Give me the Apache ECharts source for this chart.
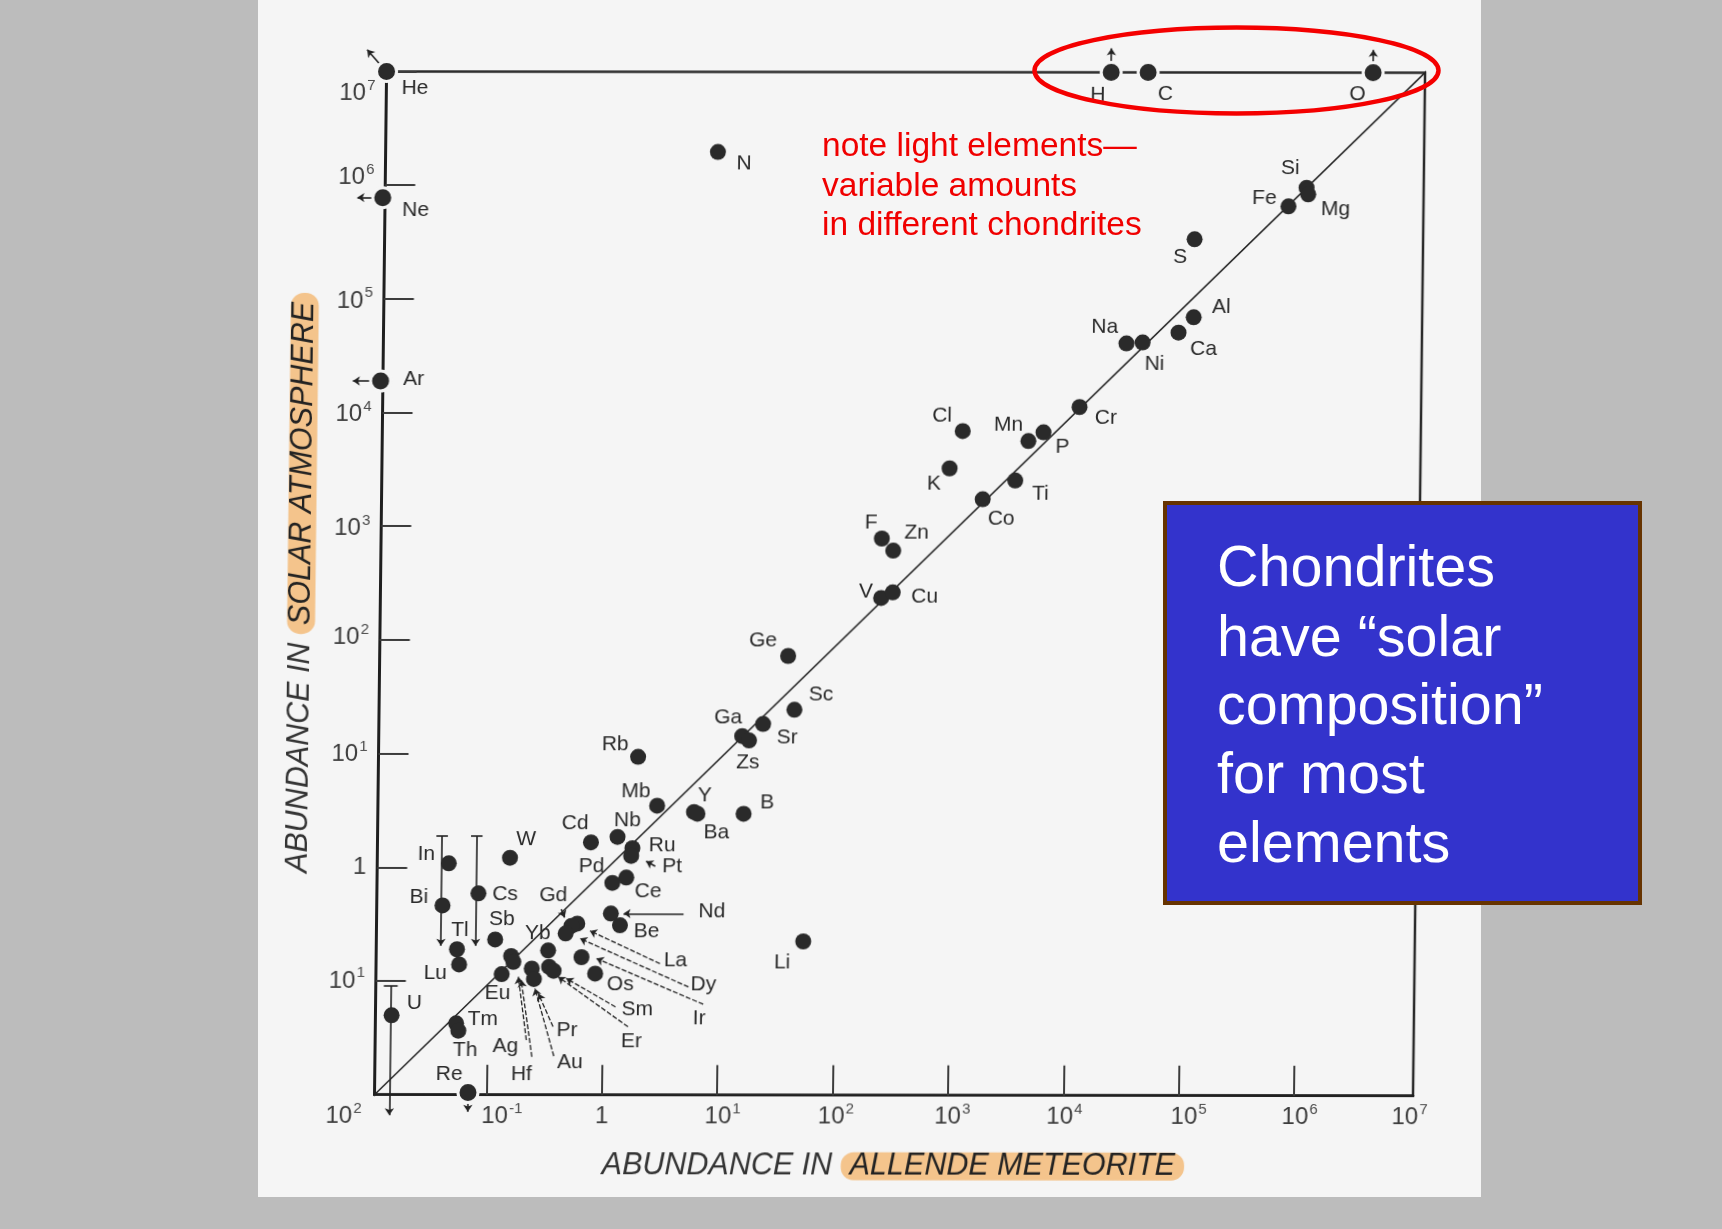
<!DOCTYPE html>
<html><head><meta charset="utf-8">
<script src="https://cdn.jsdelivr.net/npm/echarts@6/dist/echarts.min.js"></script>
<style>
html,body{margin:0;padding:0;background:#bcbcbc;width:1722px;height:1229px;overflow:hidden}
#panel{position:absolute;left:258px;top:0;width:1223px;height:1197px;background:#f5f5f5}
#plot,#overlay{position:absolute;left:0;top:0;width:1722px;height:1229px}
#plot{transform-origin:374.5px 1094.7px;transform:matrix(1,0.0012,-0.0118,1,0,0);filter:blur(0.5px)}
</style></head><body>
<div id="panel"></div><div id="plot"></div><div id="overlay"></div>
<script>
// Values are log10 of abundance (Si = 10^6).
const elements = ['He','N','H','C','O','Ne','Ar','Si','Mg','Fe','S','Al','Ca','Na','Ni','Cr','Cl','Mn','P','K','Ti','Co','F','Zn','V','Cu','Ge','Sc','Sr','Ga','Zs','Rb','Mb','Y','Ba','B','Cd','Nb','Ru','Pt','W','In','Pd','Ce','Cs','Bi','Nd','Be','Sb','Gd','La','Dy','Yb','Tl','Lu','Ir','Os','Sm','Er','Pr','Au','Ag','Hf','Eu','U','Tm','Th','Re','Li'];
const logAllende = [-2.0,0.88,4.28,4.60,6.55,-2.02,-2.02,5.985,6.0,5.83,5.02,5.02,4.89,4.44,4.58,4.04,3.03,3.73,3.60,2.92,3.49,3.21,2.34,2.44,2.34,2.44,1.54,1.60,1.33,1.15,1.21,0.25,0.42,0.74,0.77,1.17,-0.15,0.08,0.21,0.20,-0.85,-1.38,0.04,0.16,-1.12,-1.43,0.03,0.11,-0.97,-0.26,-0.31,-0.36,-0.51,-1.30,-1.28,-0.22,-0.10,-0.50,-0.46,-0.65,-0.63,-0.83,-0.81,-0.91,-1.86,-1.30,-1.28,-1.19,1.70];
const logSolar = [7.0,6.295,7.0,7.0,7.0,5.889,4.277,5.986,5.928,5.822,5.532,4.846,4.711,4.615,4.624,4.055,3.842,3.832,3.755,3.514,3.408,3.243,2.896,2.79,2.374,2.423,1.863,1.389,1.264,1.158,1.119,0.974,0.544,0.489,0.474,0.474,0.221,0.269,0.170,0.102,0.085,0.035,-0.135,-0.088,-0.229,-0.335,-0.405,-0.508,-0.634,-0.494,-0.513,-0.581,-0.730,-0.721,-0.854,-0.789,-0.933,-0.874,-0.909,-0.890,-0.982,-0.78,-0.831,-0.939,-1.302,-1.372,-1.437,-1.98,-0.648];
const onAxisElements = ['He','H','C','O','Ne','Ar','Re'];
const tickExponents = [-2,-1,0,1,2,3,4,5,6,7];
const xTickText = ['2','-1','','1','2','3','4','5','6','7'];
const yTickText = ['2','1','','1','2','3','4','5','6','7'];
// tick marks as printed in the scan, which sit slightly off the frame's even spacing
const xTickMarks = [-1.03,-0.03,0.97,1.97,2.97,3.97,4.97,5.97];
const xAxisWords = ['ABUNDANCE IN','ALLENDE METEORITE'];
const yAxisWords = ['ABUNDANCE IN','SOLAR ATMOSPHERE'];
const diagonal = [[-2,-2],[7.1,7.1]];
// leaders and limits: [x1,y1,x2,y2] in log10 units, second end carries the arrow
const dashedLeaders = [[0.46,-0.845,-0.15,-0.557],[0.71,-1.05,-0.235,-0.625],[0.84,-1.202,-0.09,-0.801],[0.08,-1.226,-0.35,-0.976],[0.19,-1.401,-0.42,-0.962],[-0.46,-1.401,-0.59,-1.109],[-0.45,-1.66,-0.62,-1.065],[-0.69,-1.519,-0.765,-0.962],[-0.64,-1.666,-0.74,-0.992]];
const solidArrows = [[0.66,-0.405,0.14,-0.405],[0.41,0.011,0.33,0.055],[-0.40,-0.368,-0.37,-0.44],[-1.44,0.275,-1.44,-0.69],[-1.14,0.275,-1.14,-0.69],[-1.87,-1.044,-1.87,-2.18],[-1.19,-1.98,-1.19,-2.15],[-2.03,7.03,-2.17,7.19],[-2.06,5.89,-2.24,5.89],[-2.06,4.277,-2.26,4.277],[4.28,7.04,4.28,7.21],[6.55,7.04,6.55,7.2]];
const limitCaps = [[-1.49,0.275,-1.39,0.275],[-1.19,0.275,-1.09,0.275],[-1.93,-1.044,-1.81,-1.044]];
const noteLines = ['note light elements—','variable amounts','in different chondrites'];
const boxLines = ['Chondrites','have “solar','composition”','for most','elements'];

// Label offsets from each dot, layout only (in units of the shown scale)
const S = 1.098;
const labelOffsets = {He:[26,15],N:[24,11],H:[-12,21],C:[16,20],O:[-14,20],Ne:[30,11],Ar:[30,-2],Si:[-15,-18],Mg:[25,14],Fe:[-22,-7],S:[-13,16],Al:[25,-9],Ca:[23,15],Na:[-20,-15],Ni:[11,20],Cr:[24,10],Cl:[-19,-14],Mn:[-32,-7],P:[31,5],K:[-14,14],Ti:[23,12],Co:[17,18],F:[-10,-14],Zn:[21,-16],V:[-14,-6],Cu:[29,4],Ge:[-23,-14],Sc:[24,-14],Sr:[22,12],Ga:[-13,-17],Zs:[-1,20],Rb:[-21,-11],Mb:[-19.4,-13.4],Y:[9.7,-15.2],Ba:[17.6,16.7],B:[21.3,-10.6],Cd:[-14.6,-17.6],Nb:[8.8,-14.6],Ru:[27,-2.7],Pt:[37.3,10],W:[14.6,-16.7],In:[-20.6,-8.5],Pd:[-19.1,-15.2],Ce:[20,13],Cs:[24.3,0.6],Bi:[-21.6,-7.9],Nd:[92,-1.5],Be:[24.3,6],Sb:[6,-18.2],Gd:[-22.2,-25.8],La:[95,31.3],Dy:[126,46.1],Yb:[-9.7,-15.5],Tl:[2.4,-17.6],Lu:[-21.6,8.2],Ir:[107.8,55.9],Os:[23,9.7],Sm:[80.8,38.9],Er:[71.6,64.7],Pr:[32.8,56.2],Au:[33.7,76.2],Ag:[-4.3,82.6],Hf:[8.5,102.3],Eu:[-3.6,17.6],U:[20.6,-11.5],Tm:[24.3,-3.6],Th:[6.4,17.6],Re:[-17.3,-17],Li:[-19,19]};
const xLabelShift = {'-2':-28,'-1':11,'0':-3,'1':2,'2':0,'3':1,'4':-2,'5':6,'6':2,'7':-3};
const yLabelShift = {'-2':0,'-1':0,'0':0,'1':1,'2':-2,'3':2,'4':2,'5':2,'6':-7,'7':20};

const DOT='#2a2a2a', INK='#2a2a2a', TICK='#3c3c3c', BG='#f5f5f5';
function labelStyle(e){
  const o=labelOffsets[e]||[0,0];
  return {show:true,position:'inside',formatter:'{b}',offset:[o[0]*S,o[1]*S],color:INK,fontFamily:'Liberation Sans',fontSize:21};
}
function dots(list,extra){
  const d=[];
  elements.forEach((e,i)=>{ if(list(e)) d.push({name:e,value:[logAllende[i],logSolar[i]],label:labelStyle(e)}); });
  return Object.assign({type:'scatter',clip:false,symbol:'circle',data:d,z:5,emphasis:{disabled:true}},extra);
}
function segs(a){return a.map(s=>({coords:[[s[0],s[1]],[s[2],s[3]]]}));}
function lineSeries(a,sym,dash,w,size){
  return {type:'lines',coordinateSystem:'cartesian2d',clip:false,silent:true,polyline:false,z:4,
    symbol:sym,symbolSize:size,data:segs(a),lineStyle:{color:'#222',width:w,type:dash,opacity:1,curveness:0},effect:{show:false}};
}
// Tick labels: rich text with a raised exponent; per-tick nudge as in the scan
function tickLabel(text,i,axis){
  if(text==='') return '{p'+axis+i+'|1}';
  return '{p'+axis+i+'|10}{s'+axis+i+'|'+text+'}';
}
function tickRich(axis,shift){
  const r={};
  tickExponents.forEach((t,i)=>{
    const dy=axis==='y'?shift[t]*S:0, dx=axis==='x'?shift[t]*S:0;
    const top=Math.max(0,2*dy), bot=Math.max(0,-2*dy);
    const hasSup=(axis==='x'?xTickText:yTickText)[i]!=='';
    r['p'+axis+i]={fontFamily:'Liberation Sans',fontSize:24,color:'#3c3c3c',lineHeight:26,
      padding:[top,hasSup?0:Math.max(0,-2*dx),bot,Math.max(0,2*dx)]};
    r['s'+axis+i]={fontFamily:'Liberation Sans',fontSize:15,color:'#4a4a4a',lineHeight:16,
      padding:[top,Math.max(0,-2*dx),bot+16,1]};
  });
  return r;
}
function axisBase(kind,labels,shift,width,marks){
  const tick={show:true,inside:true,length:30,lineStyle:{color:TICK,width:2}};
  if(marks) tick.customValues=marks;
  return {type:'value',min:-2,max:7,interval:1,splitLine:{show:false},minorTick:{show:false},
    axisLine:{show:true,onZero:false,lineStyle:{color:'#1f1f1f',width:width}},
    axisTick:tick,
    axisLabel:{show:true,margin:kind==='y'?11:9,showMinLabel:kind==='x',showMaxLabel:true,hideOverlap:false,
      formatter:(v)=>{const i=tickExponents.indexOf(Math.round(v));return tickLabel(labels[i],i,kind);},
      rich:tickRich(kind,shift)}};
}
const nameRich={
  a:{fontFamily:'Liberation Sans',fontStyle:'italic',fontSize:30.5,color:'#333'},
  b:{fontFamily:'Liberation Sans',fontStyle:'italic',fontSize:30.5,color:'#222',backgroundColor:'#f4c48c',borderRadius:13,padding:[-1,9,-1,9]}
};
const plot=echarts.init(document.getElementById('plot'),null,{renderer:'canvas'});
plot.setOption({
  animation:false,backgroundColor:'transparent',
  grid:{left:374.5,top:71.4,width:1038.5,height:1023.3,show:true,borderColor:'#2a2a2a',borderWidth:2.5,backgroundColor:'transparent',containLabel:false},
  xAxis:Object.assign(axisBase('x',xTickText,xLabelShift,2.5,xTickMarks),{name:'{a|'+xAxisWords[0]+' }{b|'+xAxisWords[1]+'}',nameLocation:'middle',nameGap:56,nameTextStyle:{rich:nameRich}}),
  yAxis:Object.assign(axisBase('y',yTickText,yLabelShift,3),{name:'{a|'+yAxisWords[0]+' }{b|'+yAxisWords[1]+'}',nameLocation:'middle',nameGap:64,nameRotate:90,nameTextStyle:{rich:nameRich}}),
  tooltip:{show:false},
  series:[
    {type:'line',clip:false,silent:true,symbol:'none',data:diagonal,lineStyle:{color:'#222',width:1.5,opacity:1},z:3},
    lineSeries(dashedLeaders,['none','arrow'],[5,2],1.3,7),
    lineSeries(solidArrows,['none','arrow'],'solid',1.6,7),
    lineSeries(limitCaps,['none','none'],'solid',1.6,7),
    dots(e=>!onAxisElements.includes(e),{symbolSize:16,itemStyle:{color:DOT,opacity:1}}),
    dots(e=>onAxisElements.includes(e),{symbolSize:20,itemStyle:{color:DOT,opacity:1,borderColor:BG,borderWidth:3}})
  ]
});
const overlay=echarts.init(document.getElementById('overlay'),null,{renderer:'canvas'});
const NOTE_Y=[147,186.5,226], BOX_Y=[570,640,708,777,846];
overlay.setOption({
  animation:false,backgroundColor:'transparent',
  graphic:[
    {type:'ellipse',shape:{cx:1236.5,cy:70.5,rx:202,ry:43},style:{fill:'transparent',stroke:'#f40000',lineWidth:4.5},silent:true}
  ].concat(noteLines.map((t,i)=>({type:'text',x:822,y:NOTE_Y[i],silent:true,style:{text:t,fill:'#f00000',font:'33.5px "Liberation Sans"',verticalAlign:'middle'}})))
   .concat([{type:'rect',shape:{x:1165,y:503,width:475,height:400},silent:true,style:{fill:'#3333cc',stroke:'#663300',lineWidth:4}}])
   .concat(boxLines.map((t,i)=>({type:'text',x:1217,y:BOX_Y[i],silent:true,z:10,style:{text:t,fill:'#ffffff',font:'57.5px "Liberation Sans"',verticalAlign:'middle'}})))
});
</script></body></html>
